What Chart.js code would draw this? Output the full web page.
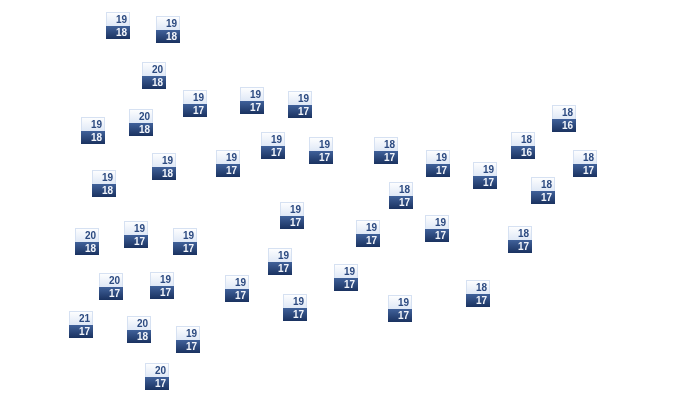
<!DOCTYPE html>
<html>
<head>
<meta charset="utf-8">
<script src="https://cdn.jsdelivr.net/npm/chart.js@4"></script>
<style>
  html, body { margin: 0; padding: 0; background: #fff; }
  #wrap { width: 700px; height: 410px; }
</style>
</head>
<body>
<div id="wrap"><canvas id="tempChart" width="700" height="410"></canvas></div>
<script>
// station positions (map units) and their high / low values
const stationX = [118, 168, 154, 195, 252, 300, 564, 141, 93, 273,
                  523, 386, 321, 228, 164, 438, 585, 485, 104, 543,
                  401, 292, 368, 437, 87, 136, 185, 520, 280, 346,
                  111, 162, 237, 478, 295, 400, 81, 139, 188, 157];
const stationY = [26, 30, 76, 104, 101, 105, 119, 123, 131, 146,
                  146, 151, 151, 164, 167, 164, 164, 176, 184, 191,
                  196, 216, 234, 229, 242, 235, 242, 240, 262, 278,
                  287, 286, 289, 294, 308, 309, 325, 330, 340, 377];
const highs = [19, 19, 20, 19, 19, 19, 18, 20, 19, 19,
               18, 18, 19, 19, 19, 19, 18, 19, 19, 18,
               18, 19, 19, 19, 20, 19, 19, 18, 19, 19,
               20, 19, 19, 18, 19, 19, 21, 20, 19, 20];
const lows = [18, 18, 18, 17, 17, 17, 16, 18, 18, 17,
              16, 17, 17, 17, 18, 17, 17, 17, 18, 17,
              17, 17, 17, 17, 18, 17, 17, 17, 17, 17,
              17, 17, 17, 17, 17, 17, 17, 18, 17, 17];

const points = stationX.map((x, i) => ({ x: x, y: stationY[i] }));

// draws the two-part label box at each point
const tempBoxes = {
    id: 'tempBoxes',
    afterDatasetsDraw(chart) {
        const c = chart.ctx;
        const meta = chart.getDatasetMeta(0);
        const w = 24, hTop = 14, hBot = 13;
        c.save();
        c.font = 'bold 10px "Liberation Sans", Arial, sans-serif';
        c.textAlign = 'right';
        c.textBaseline = 'middle';
        meta.data.forEach((pt, i) => {
            const left = Math.round(pt.x - w / 2);
            const mid = Math.round(pt.y);

            // top part
            let g = c.createLinearGradient(0, mid - hTop, 0, mid);
            g.addColorStop(0, '#ffffff');
            g.addColorStop(1, '#dfe8f6');
            c.fillStyle = g;
            c.fillRect(left, mid - hTop, w, hTop);
            c.strokeStyle = '#d6e1f2';
            c.lineWidth = 1;
            c.strokeRect(left + 0.5, mid - hTop + 0.5, w - 1, hTop);

            // bottom part
            g = c.createLinearGradient(0, mid, 0, mid + hBot);
            g.addColorStop(0, '#40619a');
            g.addColorStop(1, '#1a3260');
            c.fillStyle = g;
            c.fillRect(left, mid, w, hBot);

            c.fillStyle = '#2c4a80';
            c.fillText(highs[i], left + w - 3, mid - hTop / 2 + 1);
            c.fillStyle = '#f2f5fb';
            c.fillText(lows[i], left + w - 3, mid + hBot / 2 + 0.5);
        });
        c.restore();
    }
};

const tempChart = new Chart(document.getElementById('tempChart').getContext('2d'), {
    type: 'scatter',
    data: {
        datasets: [{
            data: points,
            pointRadius: 0,
            pointHoverRadius: 0
        }]
    },
    options: {
        responsive: false,
        animation: false,
        layout: { padding: 0 },
        plugins: {
            legend: { display: false },
            tooltip: { enabled: false }
        },
        scales: {
            x: { type: 'linear', min: 0, max: 700, display: false },
            y: { type: 'linear', min: 0, max: 410, reverse: true, display: false }
        }
    },
    plugins: [tempBoxes]
});
</script>
</body>
</html>
